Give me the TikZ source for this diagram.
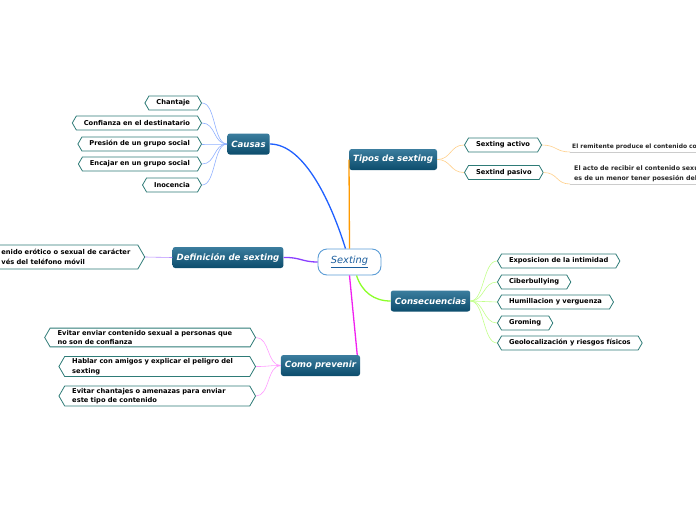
\documentclass[tikz,border=0pt]{standalone}
\usepackage{fontspec}
\setmainfont{DejaVu Sans}
\usetikzlibrary{shapes.symbols}

\definecolor{topictop}{HTML}{3B7D9E}
\definecolor{topicbot}{HTML}{0C4C6C}
\definecolor{leafline}{HTML}{2E7B77}
\definecolor{sextline}{HTML}{5C9DD6}
\definecolor{sextblue}{HTML}{1B5E9E}
\definecolor{causc}{HTML}{2060FF}
\definecolor{causl}{HTML}{8FB0FF}
\definecolor{tipc}{HTML}{FF9A00}
\definecolor{tipl}{HTML}{FFCF8A}
\definecolor{defc}{HTML}{8A3FFF}
\definecolor{defl}{HTML}{B58CFF}
\definecolor{consc}{HTML}{8CFF2A}
\definecolor{consl}{HTML}{C2FF8A}
\definecolor{prevc}{HTML}{F020F0}
\definecolor{prevl}{HTML}{FF9CFF}

\tikzset{
  sext/.style={draw=sextline, line width=0.9pt, fill=white, rounded corners=9pt,
    minimum width=63pt, minimum height=26pt, text=sextblue,
    font=\itshape\fontsize{9.8}{11}\selectfont},
  topic/.style={rounded corners=2.5pt, top color=topictop, bottom color=topicbot,
    text=white, font=\bfseries\itshape\fontsize{8.6}{10}\selectfont,
    minimum height=21pt, inner xsep=4pt},
  leaf/.style={signal, signal to=west and east, signal pointer angle=120,
    draw=leafline, line width=0.8pt, fill=white, text=black,
    font=\bfseries\fontsize{6.7}{9.6}\selectfont, minimum height=14pt,
    inner xsep=7.5pt, inner ysep=2pt, align=left},
  note/.style={text=black!85, font=\bfseries\fontsize{6}{9.6}\selectfont,
    inner xsep=2pt, inner ysep=2pt, text width=150pt, align=left},
  main/.style={line width=1.3pt},
  sub/.style={line width=0.6pt}
}

\begin{document}
\begin{tikzpicture}[x=1pt, y=-1pt]
\useasboundingbox (0,0) rectangle (696,520);

\node[sext] (sx) at (349.5,262) {\underline{Sexting}};

\node[topic] (ca) at (248.5,144) {Causas};
\node[topic, anchor=west] (ti) at (349,159.5) {Tipos de sexting};
\node[topic] (de) at (228,257.5) {Definición de sexting};
\node[topic] (co) at (430.5,301) {Consecuencias};
\node[topic] (pr) at (320.5,365.5) {Como prevenir};

\node[leaf, anchor=east] (ca1) at (202,103) {Chantaje};
\node[leaf, anchor=east] (ca2) at (202,123) {Confianza en el destinatario};
\node[leaf, anchor=east] (ca3) at (202,144) {Presión de un grupo social};
\node[leaf, anchor=east] (ca4) at (202,164) {Encajar en un grupo social};
\node[leaf, anchor=east] (ca5) at (202,185) {Inocencia};

\node[leaf, anchor=west] (ti1) at (464,145) {Sexting activo};
\node[leaf, anchor=west] (ti2) at (464,172.5) {Sextind pasivo};
\node[note, anchor=south west] (n1) at (570,152) {El remitente produce el contenido co};
\node[note, anchor=south west, inner xsep=4pt, font=\bfseries\fontsize{6.3}{9.6}\selectfont] (n2) at (570,184) {El acto de recibir el contenido sexu\\es de un menor tener posesión del};

\node[leaf, signal to=east, anchor=west, minimum height=24pt] (de1) at (-6.5,257) {enido erótico o sexual de carácter\\vés del teléfono móvil};

\node[leaf, anchor=west] (co1) at (497,261) {Exposicion de la intimidad};
\node[leaf, anchor=west] (co2) at (497,282) {Ciberbullying};
\node[leaf, anchor=west] (co3) at (497,302) {Humillacion y verguenza};
\node[leaf, anchor=west] (co4) at (497,323) {Groming};
\node[leaf, anchor=west] (co5) at (497,343) {Geolocalización y riesgos físicos};

\node[leaf, anchor=east, text width=185pt] (pr1) at (256,337.5) {Evitar enviar contenido sexual a personas que\\no son de confianza};
\node[leaf, anchor=east, text width=170pt] (pr2) at (256,366.5) {Hablar con amigos y explicar el peligro del\\sexting};
\node[leaf, anchor=east, text width=170pt] (pr3) at (256,396) {Evitar chantajes o amenazas para enviar\\este tipo de contenido};

\draw[main, causc] ([xshift=-4pt]sx.north) .. controls (332,205) and (305,144) .. (ca.east);
\draw[main, tipc] (sx.north) -- (ti.west);
\draw[main, defc] (sx.west) .. controls (302,262) and (300,257) .. (de.east);
\draw[main, consc] ([xshift=7pt]sx.south) .. controls (362,292) and (374,301) .. (co.west);
\draw[main, prevc] (sx.south) -- ([xshift=-3pt]pr.north east);

\draw[sub, causl] (ca.west) .. controls +(-14,0) and +(14,0) .. (ca1.east);
\draw[sub, causl] (ca.west) .. controls +(-14,0) and +(14,0) .. (ca2.east);
\draw[sub, causl] (ca.west) .. controls +(-14,0) and +(14,0) .. (ca3.east);
\draw[sub, causl] (ca.west) .. controls +(-14,0) and +(14,0) .. (ca4.east);
\draw[sub, causl] (ca.west) .. controls +(-14,0) and +(14,0) .. (ca5.east);

\draw[sub, tipl] (ti.east) .. controls +(14,0) and +(-14,0) .. (ti1.west);
\draw[sub, tipl] (ti.east) .. controls +(14,0) and +(-14,0) .. (ti2.west);
\draw[sub, tipl] (ti1.east) .. controls +(14,0) and +(-14,0) .. (n1.south west);
\draw[sub, tipl] (ti2.east) .. controls +(14,0) and +(-14,0) .. (n2.south west);
\draw[sub, black!20] (n1.south west) -- (n1.south east);
\draw[sub, black!20] (n2.south west) -- (n2.south east);

\draw[sub, defl] (de.west) .. controls +(-14,0) and +(14,0) .. (de1.east);

\draw[sub, consl] (co.east) .. controls +(14,0) and +(-14,0) .. (co1.west);
\draw[sub, consl] (co.east) .. controls +(14,0) and +(-14,0) .. (co2.west);
\draw[sub, consl] (co.east) .. controls +(14,0) and +(-14,0) .. (co3.west);
\draw[sub, consl] (co.east) .. controls +(14,0) and +(-14,0) .. (co4.west);
\draw[sub, consl] (co.east) .. controls +(14,0) and +(-14,0) .. (co5.west);

\draw[sub, prevl] (pr.west) .. controls +(-14,0) and +(14,0) .. (pr1.east);
\draw[sub, prevl] (pr.west) .. controls +(-14,0) and +(14,0) .. (pr2.east);
\draw[sub, prevl] (pr.west) .. controls +(-14,0) and +(14,0) .. (pr3.east);
\end{tikzpicture}
\end{document}
